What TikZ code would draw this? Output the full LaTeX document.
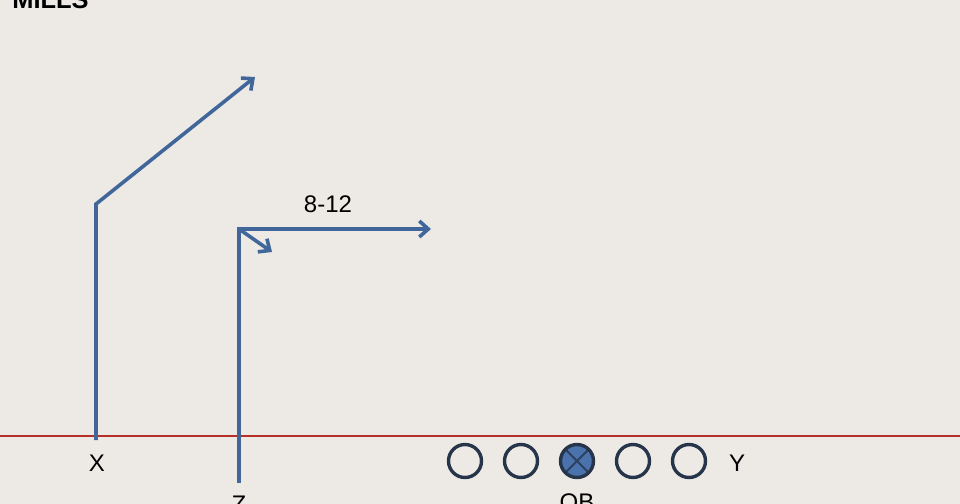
\documentclass[tikz,border=0pt]{standalone}
\usepackage{fontspec}
\setmainfont{Liberation Sans}
\usetikzlibrary{arrows.meta,positioning}
\definecolor{fieldbg}{HTML}{EDEAE6}
\definecolor{routeblue}{HTML}{41679A}
\definecolor{linenavy}{HTML}{27354B}
\definecolor{qbfill}{HTML}{4A72AC}
\definecolor{scrimmage}{HTML}{B5302A}
\tikzset{
    route/.style={routeblue,line width=1.8pt,line join=miter},
    arr/.style={route,-{Straight Barb[length=4.5pt,width=8pt]}},
    lineman/.style={circle,draw=linenavy,line width=1.7pt,minimum size=16.5pt,inner sep=0pt,outer sep=0pt},
    quarterback/.style={lineman,fill=qbfill,
        path picture={\draw[linenavy!80!qbfill,line width=1pt] (path picture bounding box.north west) -- (path picture bounding box.south east)
            (path picture bounding box.north east) -- (path picture bounding box.south west);}},
    player label/.style={inner sep=0pt,font=\fontsize{12}{14}\selectfont},
    los/.style={scrimmage,line width=0.7pt},
}
\tikzstyle{every node}=[font=\fontsize{12}{14}\selectfont]

\begin{document}
\begin{tikzpicture}[x=0.5pt,y=-0.5pt]
        \useasboundingbox[fill=fieldbg] (0,0) rectangle (960,504);
        \clip (0,0) rectangle (960,504);
        \node[anchor=base west,inner sep=0pt,font=\bfseries\fontsize{12.7}{15}\selectfont] (title) at (12,8.5) {MILLS};
        % line of scrimmage
        \coordinate (losW) at (0,436);
        \coordinate (losE) at (960,436);
        \draw[los] (losW) -- (losE);
        % offensive line
        \node[lineman] (lt) at (465,461) {};
        \node[lineman,right=11.5pt of lt] (lg) {};
        \node[quarterback,right=11.5pt of lg] (qb) {};
        \node[lineman,right=11.5pt of qb] (rg) {};
        \node[lineman,right=11.5pt of rg] (rt) {};
        \node[player label] (ylbl) at (737,463) {Y};
        \node[player label] (qblbl) at (577,504) {QB};
        \node[player label] (xlbl) at (97,463) {X};
        \node[player label] (zlbl) at (239,504) {Z};
        % routes
        \coordinate (xstart) at (96,440);
        \coordinate (xbreak) at (96,204);
        \coordinate (xend) at (255,77);
        \draw[arr] (xstart) -- (xbreak) -- (xend);
        \coordinate (zstart) at (239,483);
        \coordinate (zbreak) at (239,229);
        \coordinate (zend) at (431,229);
        \draw[arr] (zstart) -- (zbreak) -- (zend);
        \coordinate (zturn) at (272,252);
        \draw[arr] (zbreak) -- (zturn);
        \node (depth) at (328,204) {8-12};
    \end{tikzpicture}
\end{document}
